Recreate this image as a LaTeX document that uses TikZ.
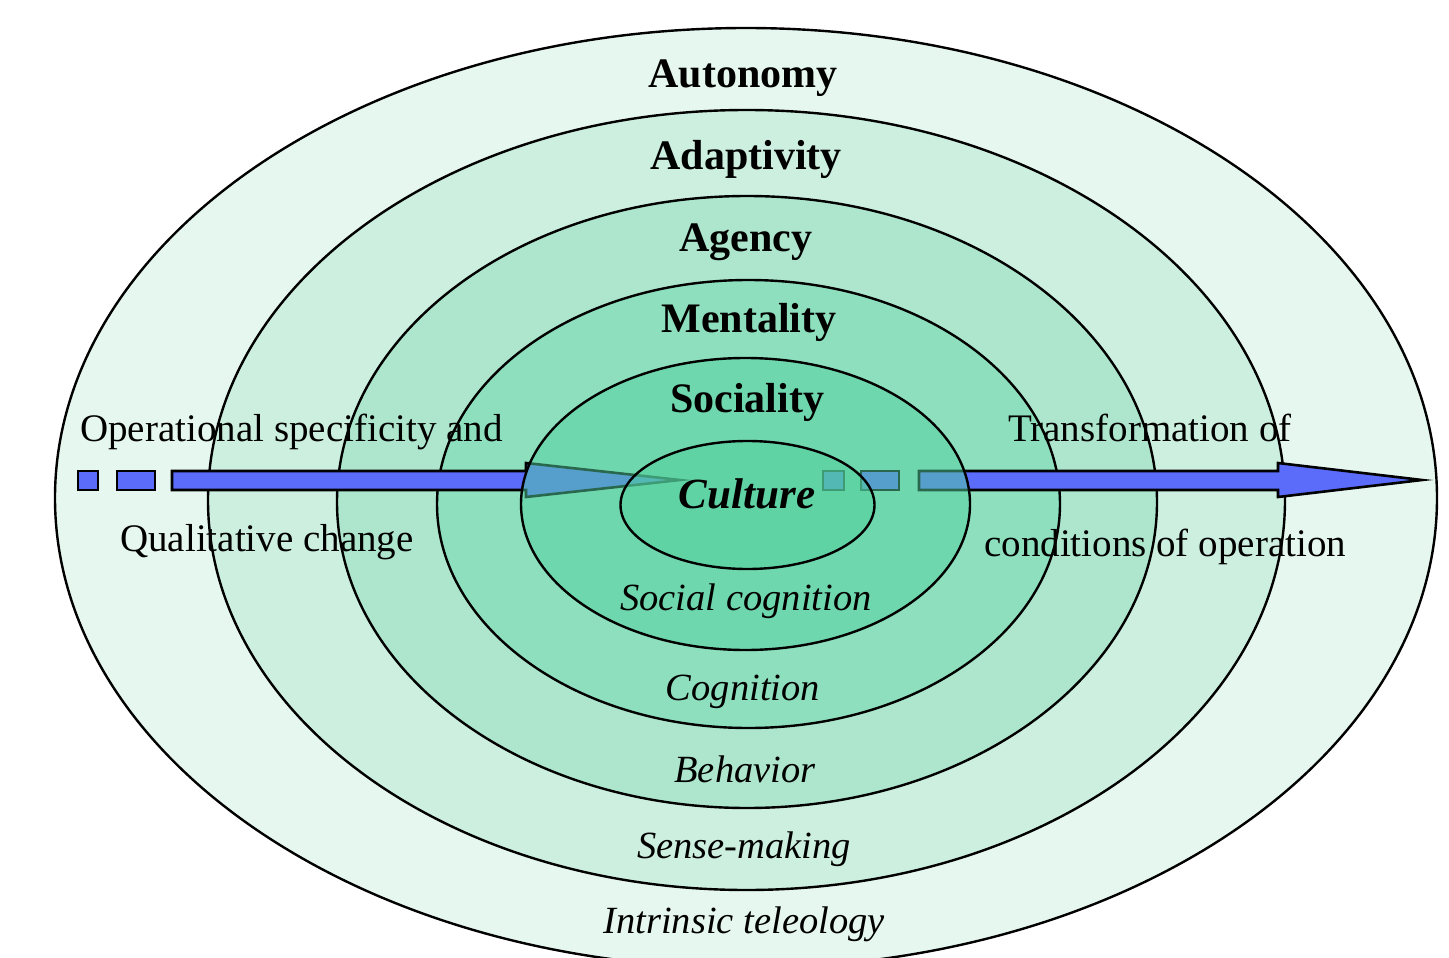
\documentclass[tikz,border=0pt]{standalone}
\usepackage{fontspec}
\setmainfont{Liberation Serif}
\definecolor{ringA}{HTML}{E6F7EF}
\definecolor{ringB}{HTML}{CCEFDF}
\definecolor{ringC}{HTML}{ADE6CD}
\definecolor{ringD}{HTML}{8DDFBD}
\definecolor{ringE}{HTML}{52D19E}
\definecolor{arrowblue}{HTML}{5B6CFB}
\begin{document}
\begin{tikzpicture}[x=1pt,y=-1pt,
  ringline/.style={draw=black, line width=2.4pt},
  blk/.style={fill=arrowblue, draw=black, line width=2.6pt, line join=miter},
  lblb/.style={font=\fontsize{42}{44}\selectfont\bfseries, anchor=base, inner sep=0pt},
  lbli/.style={font=\fontsize{38.5}{40}\selectfont\itshape, anchor=base, inner sep=0pt},
  lblbi/.style={font=\fontsize{43}{45}\selectfont\bfseries\itshape, anchor=base, inner sep=0pt},
  side/.style={font=\fontsize{39}{41}\selectfont, anchor=base west, inner sep=0pt},
]
\useasboundingbox (0,0) rectangle (1449,958);
\clip (0,0) rectangle (1449,958);
\fill[white] (0,0) rectangle (1449,958);
% ring fills
\fill[ringA] (746,498) ellipse [x radius=691, y radius=470];
\fill[ringB] (746.5,500) ellipse [x radius=538.5, y radius=390];
\fill[ringC] (747,502) ellipse [x radius=410, y radius=306];
\fill[ringD] (748.5,504) ellipse [x radius=311.5, y radius=224];
% side labels
\node[side] (opspec) at (80,441) {Operational specificity and};
\node[side] (qualch) at (120,551) {Qualitative change};
\node[side] (transf) at (1008,441) {Transformation of};
\node[side] (condop) at (984,556) {conditions of operation};
% ring outlines
\draw[ringline] (746,498) ellipse [x radius=691, y radius=470];
\draw[ringline] (746.5,500) ellipse [x radius=538.5, y radius=390];
\draw[ringline] (747,502) ellipse [x radius=410, y radius=306];
\draw[ringline] (748.5,504) ellipse [x radius=311.5, y radius=224];
% arrows
\draw[blk] (78,471) rectangle (98,490);
\draw[blk] (117,471) rectangle (155,490);
\draw[blk] (172,471) -- (526,471) -- (526,463) -- (680,480) -- (526,497) -- (526,490) -- (172,490) -- cycle;
\draw[blk] (823,471) rectangle (844,490);
\draw[blk] (861,471) rectangle (899,490);
\draw[blk] (919,471) -- (1278,471) -- (1278,463) -- (1422,480) -- (1278,497) -- (1278,490) -- (919,490) -- cycle;
% inner rings, translucent
\filldraw[fill=ringE, fill opacity=0.5, ringline] (745.5,504) ellipse [x radius=224.5, y radius=146];
\filldraw[fill=ringE, fill opacity=0.5, ringline] (747.5,505) ellipse [x radius=127, y radius=64];
% ring labels
\node[lblb] (autonomy) at (743,88) {Autonomy};
\node[lblb] (adaptivity) at (746,169) {Adaptivity};
\node[lblb] (agency) at (746,251) {Agency};
\node[lblb] (mentality) at (749,332) {Mentality};
\node[lblb] (sociality) at (747,412) {Sociality};
\node[lblbi] (culture) at (747,508) {Culture};
\node[lbli] (soccog) at (746,610) {Social cognition};
\node[lbli] (cognition) at (743,700) {Cognition};
\node[lbli] (behavior) at (745,782) {Behavior};
\node[lbli] (sensemaking) at (744,858) {Sense-making};
\node[lbli] (teleology) at (744,933) {Intrinsic teleology};
\end{tikzpicture}
\end{document}
